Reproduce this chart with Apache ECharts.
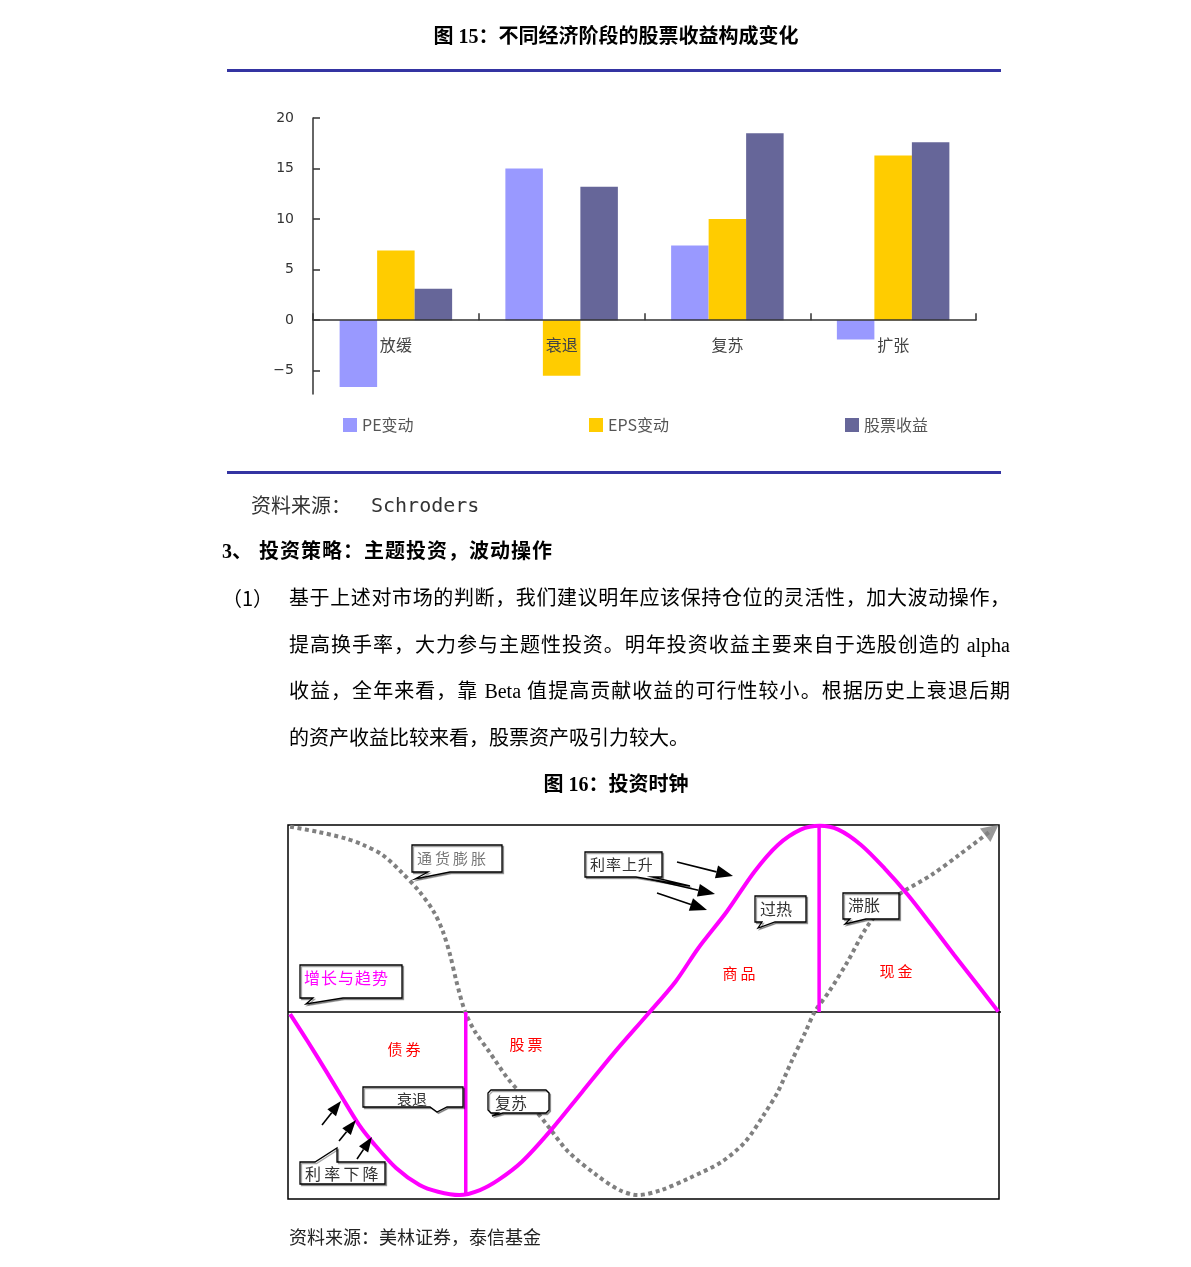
<!DOCTYPE html>
<html><head><meta charset="utf-8">
<script src="https://cdn.jsdelivr.net/npm/echarts@6/dist/echarts.min.js"></script>
<style>
html,body{margin:0;padding:0;background:#fff;}
#page{position:relative;width:1191px;height:1267px;overflow:hidden;background:#fff;}
#chart{position:absolute;left:0;top:0;width:1191px;height:1267px;}
.t{position:absolute;white-space:nowrap;color:#000;font-family:"Liberation Serif","Noto Sans CJK SC",serif;font-size:20px;line-height:24px;}
.c{transform:translateX(-50%);}
.b{font-weight:bold;}
.rule{position:absolute;left:227px;width:774px;height:3px;background:#3434A2;}
.j{width:721px;text-align:justify;text-align-last:justify;}
</style></head>
<body><div id="page">
<div id="chart"></div>
<div class="t c b" style="left:616px;top:24px;">图 15：不同经济阶段的股票收益构成变化</div>
<div class="rule" style="top:69px;"></div>
<div class="rule" style="top:471px;"></div>
<div class="t" style="left:251px;top:493px;color:#333;font-family:'Noto Sans CJK SC';">资料来源：</div>
<div class="t" style="left:371px;top:493px;color:#333;font-family:'DejaVu Sans Mono';">Schroders</div>
<div class="t b" style="left:222px;top:539px;">3、</div>
<div class="t b" style="left:259px;top:539px;letter-spacing:1px;">投资策略：主题投资，波动操作</div>
<div class="t" style="left:222px;top:586px;font-family:'Noto Sans CJK SC';font-variant-ligatures:none;">（&#8204;1&#8204;）</div>
<div class="t j" style="left:289px;top:586px;">基于上述对市场的判断，我们建议明年应该保持仓位的灵活性，加大波动操作，</div>
<div class="t j" style="left:289px;top:633px;">提高换手率，大力参与主题性投资。明年投资收益主要来自于选股创造的 alpha</div>
<div class="t j" style="left:289px;top:679px;">收益，全年来看，靠 Beta 值提高贡献收益的可行性较小。根据历史上衰退后期</div>
<div class="t" style="left:289px;top:726px;">的资产收益比较来看，股票资产吸引力较大。</div>
<div class="t c b" style="left:616px;top:772px;">图 16：投资时钟</div>
<div class="t" style="left:289px;top:1226px;font-size:18px;color:#222;">资料来源：美林证券，泰信基金</div>
</div>
<script>
// ---- Figure 15 data ----
const stages = ['放缓', '衰退', '复苏', '扩张'];
const peChange = [-6.6, 15.0, 7.4, -1.9];
const epsChange = [6.9, -5.5, 10.0, 16.3];
const stockReturn = [3.1, 13.2, 18.5, 17.6];
const yTicks = [-5, 0, 5, 10, 15, 20];
const seriesNames = ['PE变动', 'EPS变动', '股票收益'];

// ---- Figure 16 data (x: cycle progress 0-100, y: level -100..100) ----
const growthCurve = [
  [0.3,-1.1],[2.8,-15.9],[5.4,-31.9],[7.4,-44.4],[10.0,-60.4],[12.0,-70.1],[15.2,-83.4],
  [18.5,-92.5],[21.1,-96.1],[24.1,-97.9],[27.0,-95.2],[29.6,-89.8],[32.9,-80.1],[36.8,-64.0],
  [41.4,-42.6],[46.0,-21.2],[50.5,-1.6],[54.5,16.2],[57.7,34.1],[61.7,53.6],[65.6,75.0],
  [68.9,89.3],[72.1,97.5],[74.8,99.6],[77.4,97.5],[80.6,89.3],[83.9,76.8],[87.2,62.6],
  [90.5,46.5],[93.7,30.5],[97.0,14.4],[99.9,0.2]
];
const inflationCurve = [
  [0.3,99.1],[4.1,96.4],[8.0,92.9],[10.6,89.3],[13.3,84.0],[15.9,75.0],[18.5,64.3],[20.5,53.6],
  [21.8,42.9],[22.8,30.5],[23.7,16.2],[24.9,0.2],[26.3,-10.5],[28.3,-21.2],[30.9,-35.5],
  [34.2,-49.7],[36.8,-62.2],[39.4,-74.7],[43.4,-87.2],[46.6,-95.2],[49.2,-97.9],[52.5,-95.2],
  [56.4,-88.9],[61.0,-80.1],[64.3,-69.4],[66.9,-55.1],[68.9,-42.6],[70.8,-26.6],[72.8,-10.5],
  [74.1,0.2],[76.1,10.9],[78.7,26.9],[81.3,44.8],[83.9,57.2],[86.5,64.3],[90.5,73.3],
  [94.4,84.0],[99.0,97.3]
];
const dividerLeft = [[25.0, 0], [25.0, -98]];
const dividerRight = [[74.7, 99.6], [74.7, 0]];
const zeroLine = [[0, 0], [101.2, 0]];

const chart = echarts.init(document.getElementById('chart'), null, {renderer: 'canvas'});
const cjk = 'Noto Sans CJK SC';

function arrow(x1, y1, x2, y2, len, w) {
  const dx = x2 - x1, dy = y2 - y1, L = Math.hypot(dx, dy), ux = dx / L, uy = dy / L;
  const bx = x2 - ux * len, by = y2 - uy * len, px = -uy * w / 2, py = ux * w / 2;
  return [
    {type: 'line', z: 100, shape: {x1: x1, y1: y1, x2: bx, y2: by}, style: {stroke: '#000', lineWidth: 1.6}},
    {type: 'polygon', z: 100, shape: {points: [[x2, y2], [bx + px, by + py], [bx - px, by - py]]}, style: {fill: '#000'}}
  ];
}
function bubble(points, tx, ty, text, color, size) {
  return [
    {type: 'polygon', z: 100, shape: {points: points},
     style: {fill: '#fff', stroke: '#000', lineWidth: 1.3, shadowColor: 'rgba(0,0,0,0.35)', shadowOffsetX: 1.5, shadowOffsetY: 1.5}},
    {type: 'text', z: 101, style: {x: tx, y: ty, text: text, fill: color, fontSize: size, fontFamily: cjk, verticalAlign: 'middle'}}
  ];
}
function redLabel(x, y, text) {
  return {type: 'text', z: 101, style: {x: x, y: y, text: text, fill: '#FF0000', fontSize: 15, fontFamily: cjk, align: 'center', verticalAlign: 'middle'}};
}
const S = '\u2009', H = '\u200A';
const graphics = [].concat(
  bubble([[412,845],[502,845],[502,872],[450,872],[415,879],[428,872],[412,872]], 417, 858, ['通','货','膨','胀'].join(S), '#777', 15),
  arrow(677, 862, 733, 876, 17, 13),
  arrow(645, 878, 715, 894, 17, 13),
  arrow(657, 893, 707, 910, 17, 13),
  bubble([[585,852],[662,852],[662,877],[652,877],[690,886],[636,877],[585,877]], 590, 864, ['利','率','上','升'].join(H), '#333', 15),
  bubble([[755,896],[806,896],[806,922],[775,922],[758,928],[762,922],[755,922]], 760, 909, '过热', '#333', 16),
  bubble([[843,893],[899,893],[899,919],[866,919],[845,924],[850,919],[843,919]], 848, 905, '滞胀', '#333', 16),
  bubble([[300,965],[402,965],[402,998],[343,998],[306,1004],[313,998],[300,998]], 304, 978, ['增','长','与','趋','势'].join(H), '#FF00FF', 16),
  bubble([[363,1087],[463,1087],[463,1107],[447,1107],[437,1112],[430,1107],[363,1107]], 397, 1099, '衰退', '#333', 15),
  bubble([[491,1090],[546,1090],[549,1093],[549,1110],[546,1113],[503,1113],[492,1116],[498,1113],[491,1113],[488,1110],[488,1093]], 495, 1103, '复苏', '#333', 16),
  bubble([[300,1162],[315,1162],[337,1148],[337,1162],[385,1162],[385,1184],[300,1184]], 305, 1174, ['利','率','下','降'].join(S), '#333', 16),
  arrow(322, 1125, 341, 1101, 15, 11),
  arrow(339, 1141, 356, 1120, 15, 11),
  arrow(357, 1159, 372, 1137, 15, 11),
  [redLabel(404, 1049, '债' + S + '券'), redLabel(526, 1044, '股' + S + '票'),
   redLabel(739, 973, '商' + S + '品'), redLabel(896, 971, '现' + S + '金')]
);

const legendCommon = {top: 416, padding: 0, itemWidth: 14, itemHeight: 14, itemGap: 0, icon: 'rect',
  textStyle: {fontSize: 16, color: '#555', fontFamily: cjk, lineHeight: 18}};
const barColors = ['#9999FF', '#FFCC00', '#666699'];
const barValues = [peChange, epsChange, stockReturn];

const option = {
  animation: false,
  backgroundColor: 'transparent',
  grid: [
    {left: 313, top: 118, width: 663, height: 276, outerBoundsMode: 'none', containLabel: false},
    {left: 288, top: 825, width: 711, height: 374, outerBoundsMode: 'none', containLabel: false,
     show: true, borderColor: '#000', borderWidth: 1.5, backgroundColor: 'transparent'}
  ],
  legend: [
    Object.assign({data: [seriesNames[0]], left: 343}, legendCommon),
    Object.assign({data: [seriesNames[1]], left: 589}, legendCommon),
    Object.assign({data: [seriesNames[2]], left: 845}, legendCommon)
  ],
  xAxis: [
    {type: 'category', gridIndex: 0, data: stages, z: 10,
     axisLine: {show: true, onZero: true, lineStyle: {color: '#333', width: 1.5}},
     axisTick: {show: true, inside: true, length: 7, lineStyle: {color: '#333', width: 1.5}},
     axisLabel: {margin: -57, fontSize: 16, color: '#444', fontFamily: cjk},
     splitLine: {show: false}},
    {type: 'value', gridIndex: 1, min: 0, max: 100, show: false}
  ],
  yAxis: [
    {type: 'value', gridIndex: 0, min: -7.3, max: 20,
     axisLine: {show: true, lineStyle: {color: '#333', width: 1.5}},
     axisTick: {show: true, inside: true, length: 7, customValues: yTicks, lineStyle: {color: '#333', width: 1.5}},
     axisLabel: {customValues: yTicks, margin: 19, fontSize: 14, color: '#333', fontFamily: 'DejaVu Sans',
       formatter: function (v) { return String(v).replace('-', '\u2212'); }},
     splitLine: {show: false}},
    {type: 'value', gridIndex: 1, min: -100, max: 100, show: false}
  ],
  series: seriesNames.map(function (name, i) {
    return {name: name, type: 'bar', xAxisIndex: 0, yAxisIndex: 0, data: barValues[i],
      barWidth: 37.5, barGap: '0%', itemStyle: {color: barColors[i]}};
  }).concat([
    {type: 'line', xAxisIndex: 1, yAxisIndex: 1, data: zeroLine, symbol: 'none', clip: false,
     lineStyle: {color: '#000', width: 1.5}, z: 3},
    {type: 'line', xAxisIndex: 1, yAxisIndex: 1, data: inflationCurve, symbol: 'none', smooth: 0.3, clip: false,
     lineStyle: {color: '#808080', width: 4, type: [4, 3.5], cap: 'butt'}, z: 4},
    {type: 'scatter', xAxisIndex: 1, yAxisIndex: 1, data: [inflationCurve[inflationCurve.length - 1]],
     symbol: 'triangle', symbolSize: [17, 17], symbolRotate: -52, clip: false,
     itemStyle: {color: '#808080'}, z: 4},
    {type: 'line', xAxisIndex: 1, yAxisIndex: 1, data: growthCurve, symbol: 'none', smooth: 0.3, clip: false,
     lineStyle: {color: '#FF00FF', width: 4}, z: 5},
    {type: 'line', xAxisIndex: 1, yAxisIndex: 1, data: dividerLeft, symbol: 'none', clip: false,
     lineStyle: {color: '#FF00FF', width: 3.5}, z: 5},
    {type: 'line', xAxisIndex: 1, yAxisIndex: 1, data: dividerRight, symbol: 'none', clip: false,
     lineStyle: {color: '#FF00FF', width: 3.5}, z: 5}
  ]),
  graphic: {elements: graphics}
};
chart.setOption(option);
</script>
</body></html>
